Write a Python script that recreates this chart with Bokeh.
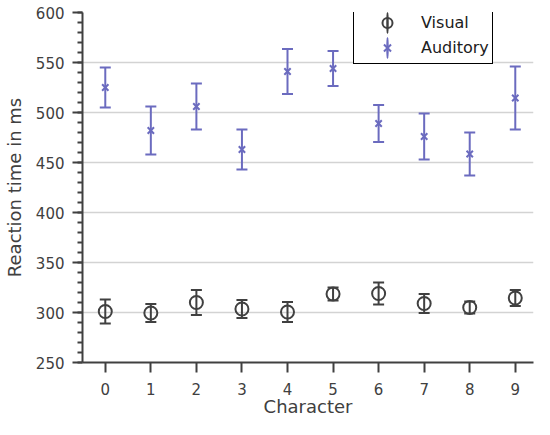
import numpy as np
from bokeh.plotting import figure
from bokeh.models import (ColumnDataSource, Whisker, TeeHead, Legend, LegendItem,
                          FixedTicker, Range1d)
from bokeh.embed import file_html
from bokeh.resources import INLINE

characters = [0, 1, 2, 3, 4, 5, 6, 7, 8, 9]
visual_mean = [301, 299.5, 310, 303.5, 300.5, 318.5, 319, 309, 305, 314.5]
visual_err = [12, 9, 12.5, 9, 10, 6.5, 11, 9.5, 6, 8]
auditory_mean = [525, 482, 506, 463, 541, 544, 489, 476, 458.5, 514.5]
auditory_err = [20, 24, 23, 20, 22.5, 17.5, 18.5, 23, 21.5, 31.5]
y_ticks = [250, 300, 350, 400, 450, 500, 550, 600]
y_minor = list(range(250, 601, 10))
series_names = ["Visual", "Auditory"]

GRAY = "#404040"
BLUE = "#6b6bbf"
FONT = "DejaVu Sans"

p = figure(width=534, height=419, x_range=Range1d(-0.5, 9.4), y_range=Range1d(250, 600),
           output_backend="svg", toolbar_location=None,
           min_border_left=81, min_border_right=1, min_border_top=12, min_border_bottom=54)
p.outline_line_color = None
p.background_fill_color = "white"
p.border_fill_color = "white"

# axes
p.xaxis.ticker = FixedTicker(ticks=characters)
p.yaxis.ticker = FixedTicker(ticks=y_ticks, minor_ticks=y_minor)
for ax in (p.xaxis, p.yaxis):
    ax.axis_line_color = GRAY
    ax.axis_line_width = 2
    ax.major_tick_line_color = GRAY
    ax.major_tick_line_width = 2
    ax.major_tick_out = 10
    ax.major_tick_in = 0
    ax.minor_tick_line_color = GRAY
    ax.minor_tick_line_width = 2
    ax.minor_tick_out = 5
    ax.minor_tick_in = 0
    ax.major_label_text_font = FONT
    ax.major_label_text_font_size = "15px"
    ax.major_label_text_color = GRAY
    ax.axis_label_text_font = FONT
    ax.axis_label_text_font_size = "18px"
    ax.axis_label_text_font_style = "normal"
    ax.axis_label_text_color = GRAY
p.xaxis.minor_tick_line_color = None
p.xaxis.axis_label = "Character"
p.yaxis.axis_label = "Reaction time in ms"
p.xaxis.major_label_standoff = 10
p.yaxis.major_label_standoff = 8
p.xaxis.axis_label_standoff = -2
p.yaxis.axis_label_standoff = 8

p.xgrid.visible = False
p.ygrid.grid_line_color = "#d3d3d3"
p.ygrid.grid_line_width = 1.5

# data sources
vis = ColumnDataSource(dict(x=characters, y=visual_mean,
                            upper=np.array(visual_mean) + np.array(visual_err),
                            lower=np.array(visual_mean) - np.array(visual_err)))
aud = ColumnDataSource(dict(x=characters, y=auditory_mean,
                            upper=np.array(auditory_mean) + np.array(auditory_err),
                            lower=np.array(auditory_mean) - np.array(auditory_err)))

for src, col in ((vis, GRAY), (aud, BLUE)):
    w = Whisker(base="x", upper="upper", lower="lower", source=src, dimension="height",
                line_color=col, line_width=2,
                upper_head=TeeHead(size=11, line_color=col, line_width=2),
                lower_head=TeeHead(size=11, line_color=col, line_width=2))
    p.add_layout(w)

p.scatter(x="x", y="y", source=vis, marker="circle", size=13, fill_color=None,
          line_color=GRAY, line_width=2)
p.scatter(x="x", y="y", source=aud, marker="x", size=9,
          line_color=BLUE, line_width=2)

# legend-only renderers (a single NaN point: nothing is drawn in the plot area)
def nan_src():
    return ColumnDataSource(dict(x=[np.nan], y=[np.nan]))

legend_renderers = []
for col, mk in ((GRAY, "circle"), (BLUE, "x")):
    bar = p.ellipse(x="x", y="y", source=nan_src(), width=1, height=40,
                    width_units="screen", height_units="screen",
                    fill_color=None, line_color=col, line_width=2)
    sym = p.scatter(x="x", y="y", source=nan_src(), marker=mk, size=10,
                    fill_color=None, line_color=col, line_width=2)
    legend_renderers.append([bar, sym])

legend = Legend(items=[LegendItem(label=series_names[0], renderers=legend_renderers[0]),
                       LegendItem(label=series_names[1], renderers=legend_renderers[1])],
                location=(271, 298), border_line_color="black", border_line_width=1.5,
                border_line_alpha=1.0,
                padding=3, spacing=0, glyph_width=60, glyph_height=25, label_height=25,
                label_standoff=4, label_text_font=FONT, label_text_font_size="16px",
                label_text_color="#202020", background_fill_alpha=1.0, margin=0)
p.add_layout(legend)

open("out.html", "w").write(file_html(p, INLINE))
